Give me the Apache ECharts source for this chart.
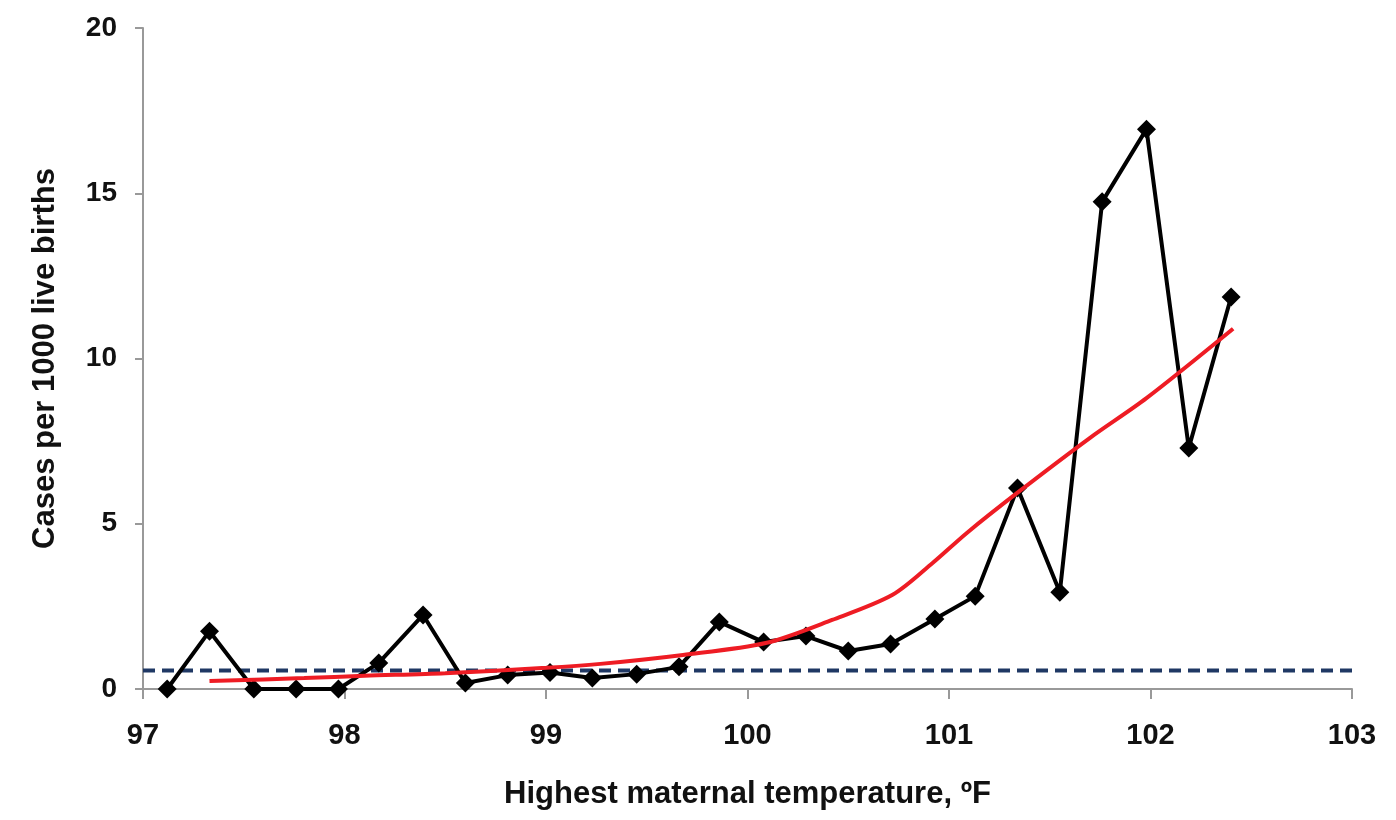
<!DOCTYPE html>
<html>
<head>
<meta charset="utf-8">
<script src="https://cdn.jsdelivr.net/npm/echarts@6/dist/echarts.min.js"></script>
<style>
  html, body { margin: 0; padding: 0; background: #fff; }
  #chart { width: 1396px; height: 820px; }
</style>
</head>
<body>
<div id="chart"></div>
<script>
// observed rate per temperature bin
const temps = [97.12, 97.33, 97.55, 97.76, 97.97, 98.17, 98.39, 98.60, 98.81, 99.02,
  99.23, 99.45, 99.66, 99.86, 100.08, 100.29, 100.50, 100.71, 100.93, 101.13,
  101.34, 101.55, 101.76, 101.98, 102.19, 102.40];
const rates = [0, 1.75, 0, 0, 0, 0.79, 2.24, 0.18, 0.42, 0.5,
  0.33, 0.45, 0.67, 2.03, 1.42, 1.6, 1.15, 1.36, 2.12, 2.81,
  6.08, 2.93, 14.74, 16.94, 7.29, 11.86];

// fitted (red) curve
const fitX = [97.33, 97.8, 98.1, 98.5, 99.0, 99.27, 99.68, 100.09, 100.42, 100.72,
  100.92, 101.09, 101.34, 101.7, 101.98, 102.41];
const fitY = [0.24, 0.33, 0.4, 0.48, 0.64, 0.76, 1.03, 1.39, 2.09, 2.85,
  3.82, 4.73, 5.94, 7.6, 8.8, 10.9];

// baseline rate (dashed)
const baseX = [97, 103.13];
const baseY = [0.56, 0.56];

const xTicks = [97, 98, 99, 100, 101, 102, 103];
const yTicks = [0, 5, 10, 15, 20];

const zip = (a, b) => a.map((v, i) => [v, b[i]]);

const chart = echarts.init(document.getElementById('chart'));
const labelFont = { fontFamily: 'Liberation Sans, Arial, sans-serif', fontWeight: 'bold', fontSize: 29, color: '#111' };

chart.setOption({
  animation: false,
  grid: { left: 143, right: 44, top: 28, bottom: 131 },
  xAxis: {
    type: 'value',
    min: xTicks[0],
    max: xTicks[xTicks.length - 1],
    interval: 1,
    name: 'Highest maternal temperature, \u00baF',
    nameLocation: 'middle',
    nameGap: 90,
    nameTextStyle: { ...labelFont, fontSize: 31 },
    axisLine: { lineStyle: { color: '#999', width: 2 } },
    axisTick: { show: true, length: 10, lineStyle: { color: '#999', width: 2 } },
    axisLabel: { ...labelFont, margin: 32 },
    splitLine: { show: false }
  },
  yAxis: {
    type: 'value',
    min: yTicks[0],
    max: yTicks[yTicks.length - 1],
    interval: 5,
    name: 'Cases per 1000 live births',
    nameLocation: 'middle',
    nameGap: 82,
    nameTextStyle: { ...labelFont, fontSize: 31 },
    axisLine: { show: true, lineStyle: { color: '#999', width: 2 } },
    axisTick: { show: true, length: 8, lineStyle: { color: '#999', width: 2 } },
    axisLabel: { ...labelFont, fontSize: 28, margin: 26 },
    splitLine: { show: false }
  },
  series: [
    {
      type: 'line',
      data: zip(baseX, baseY),
      clip: false,
      symbol: 'none',
      lineStyle: { color: '#1f3864', width: 4, type: [12, 7] },
      z: 1
    },
    {
      type: 'line',
      data: zip(fitX, fitY),
      symbol: 'none',
      smooth: 0.3,
      lineStyle: { color: '#ee1c24', width: 4 },
      z: 3
    },
    {
      type: 'line',
      data: zip(temps, rates),
      symbol: 'diamond',
      symbolSize: 19,
      itemStyle: { color: '#000' },
      lineStyle: { color: '#000', width: 4 },
      z: 2
    }
  ]
});
</script>
</body>
</html>
